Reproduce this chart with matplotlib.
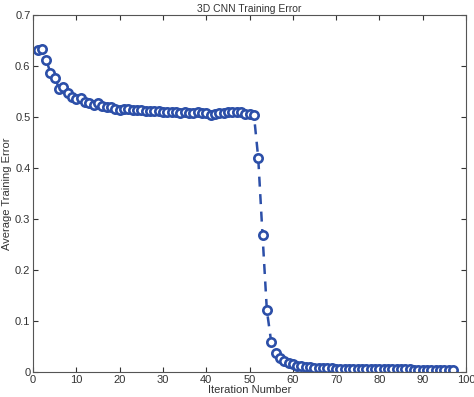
import matplotlib
matplotlib.use("Agg")
import matplotlib.pyplot as plt

plt.rcParams['font.family'] = ['Liberation Sans', 'DejaVu Sans']

# iteration index and average training error
iterations = list(range(1, 98))
train_error = [
    0.631, 0.633, 0.612, 0.587, 0.577, 0.556, 0.558, 0.547, 0.540, 0.535,
    0.537, 0.529, 0.527, 0.523, 0.527, 0.521, 0.520, 0.519, 0.515, 0.514,
    0.515, 0.515, 0.514, 0.514, 0.513, 0.512, 0.512, 0.511, 0.511, 0.510,
    0.509, 0.510, 0.509, 0.508, 0.509, 0.508, 0.508, 0.509, 0.508, 0.507,
    0.505, 0.506, 0.507, 0.508, 0.509, 0.510, 0.510, 0.509, 0.506, 0.506,
    0.505, 0.420, 0.268, 0.121, 0.059, 0.037, 0.028, 0.022, 0.018, 0.015,
    0.012, 0.011, 0.010, 0.009, 0.008, 0.008, 0.007, 0.007, 0.007, 0.006,
    0.006, 0.006, 0.006, 0.006, 0.006, 0.006, 0.005, 0.005, 0.005, 0.005,
    0.005, 0.005, 0.005, 0.005, 0.005, 0.005, 0.005, 0.004, 0.004, 0.004,
    0.004, 0.004, 0.004, 0.004, 0.004, 0.004, 0.004,
]
xticks = list(range(0, 101, 10))
yticks = [0, 0.1, 0.2, 0.3, 0.4, 0.5, 0.6, 0.7]
ytick_labels = ['0', '0.1', '0.2', '0.3', '0.4', '0.5', '0.6', '0.7']

blue = '#2c4fa8'
grey = '#333333'

fig = plt.figure(figsize=(4.74, 3.97), dpi=100)
ax = fig.add_axes([0.070, 0.063, 0.913, 0.899])

ax.plot(iterations, train_error, linestyle='--', color=blue, lw=1.8,
        marker='o', markersize=6, markerfacecolor='white',
        markeredgecolor=blue, markeredgewidth=1.9, dashes=(4, 3))

ax.set_xlim(0, 100)
ax.set_ylim(0, 0.7)
ax.set_xticks(xticks)
ax.set_yticks(yticks)
ax.set_yticklabels(ytick_labels)
ax.tick_params(direction='in', top=True, right=True, length=3.5,
               labelsize=8, colors=grey, pad=2)
for s in ax.spines.values():
    s.set_color('#555555')
    s.set_linewidth(0.8)

ax.set_title('3D CNN Training Error', fontsize=7.5, color=grey, pad=2)
ax.set_xlabel('Iteration Number', fontsize=8, color=grey, labelpad=0)
ax.set_ylabel('Average Training Error', fontsize=8, color=grey, labelpad=2)

fig.savefig('out.png', dpi=100)
